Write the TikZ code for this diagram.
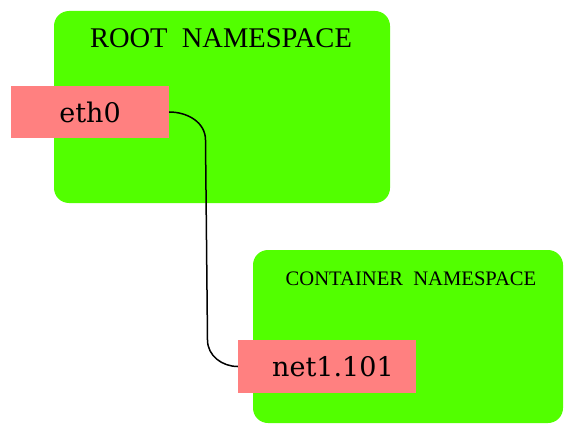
\documentclass[tikz,border=0pt]{standalone}
\usepackage{fontspec}
\setmainfont{Liberation Serif}
\newfontfamily\labelfont{DejaVu Serif}

\begin{document}
\begin{tikzpicture}[x=1pt,y=-1pt,
    nsbox/.style={fill=nsgreen,rounded corners=15pt,inner sep=0pt},
    ifbox/.style={fill=ifpink,inner sep=0pt,font=\labelfont\fontsize{27}{32}\selectfont}]

    \definecolor{nsgreen}{RGB}{82,255,0}
    \definecolor{ifpink}{RGB}{255,128,128}

    \useasboundingbox (0,0) rectangle (573,433);

    % Namespaces
    \node[nsbox,minimum width=336pt,minimum height=192pt] (root) at (222,107) {};
    \node[nsbox,minimum width=310pt,minimum height=173pt] (cont) at (408,336.5) {};

    \node[font=\fontsize{28.5}{33}\selectfont] (roottitle) at (221,38) {ROOT\ \ NAMESPACE};
    \node[font=\fontsize{20.6}{24}\selectfont] (conttitle) at (411,279) {CONTAINER\ \ NAMESPACE};

    % Interfaces
    \node[ifbox,minimum width=158pt,minimum height=52pt] (eth0) at (90,112) {eth0\hspace{14pt}};
    \node[ifbox,minimum width=178pt,minimum height=53pt] (net) at (327,366.5) {\hspace{12pt}net1.101};

    % Link
    \coordinate (bendtop) at (205.5,140);
    \coordinate (bendbot) at (207.5,340);
    \draw[line width=1.5pt] (eth0.east) to[out=0,in=90] (bendtop) -- (bendbot) to[out=-90,in=180] (net.west);

\end{tikzpicture}
\end{document}
